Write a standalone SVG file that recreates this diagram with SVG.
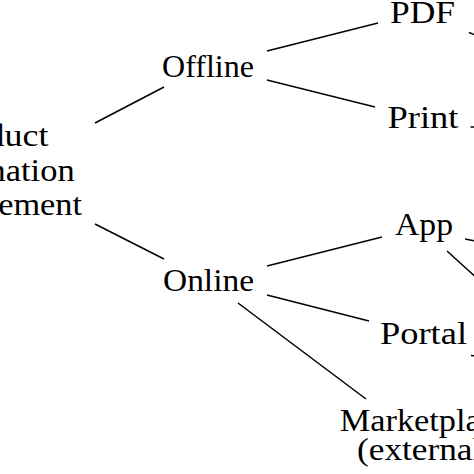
<svg xmlns="http://www.w3.org/2000/svg" width="474" height="474" viewBox="0 0 474 474">
<style>
text{font-family:"Liberation Serif","Times New Roman",serif;font-size:30.5px;fill:#000;text-anchor:middle}
.e line{stroke:#000;stroke-width:1.5;stroke-linecap:butt}
</style>
<rect width="474" height="474" fill="#fff"/>
<g class="e" id="connectors">
<line x1="95" y1="123" x2="164" y2="87"/>
<line x1="95" y1="224" x2="164" y2="259"/>
<line x1="267" y1="51" x2="378" y2="23"/>
<line x1="267" y1="80" x2="375" y2="107"/>
<line x1="267" y1="266" x2="382" y2="237"/>
<line x1="267" y1="295" x2="369" y2="321"/>
<line x1="238" y1="303" x2="366" y2="399"/>
<line x1="469" y1="32.5" x2="480" y2="37"/>
<line x1="470.5" y1="127" x2="480" y2="127"/>
<line x1="465" y1="239" x2="480" y2="242"/>
<line x1="447" y1="251" x2="480" y2="281"/>
<line x1="471" y1="355.5" x2="480" y2="356"/>
</g>
<g id="root">
<text x="-7.6" y="146" textLength="112" lengthAdjust="spacingAndGlyphs">Product</text>
<text x="-7.6" y="181" textLength="164.4" lengthAdjust="spacingAndGlyphs">Information</text>
<text x="-7.6" y="215" textLength="179.3" lengthAdjust="spacingAndGlyphs">Management</text>
</g>
<g id="offline"><text x="208" y="77" textLength="92" lengthAdjust="spacingAndGlyphs">Offline</text></g>
<g id="online"><text x="208.5" y="291" textLength="91" lengthAdjust="spacingAndGlyphs">Online</text></g>
<g id="pdf"><text x="422.5" y="23" textLength="65" lengthAdjust="spacingAndGlyphs">PDF</text></g>
<g id="print"><text x="423" y="128" textLength="71" lengthAdjust="spacingAndGlyphs">Print</text></g>
<g id="app"><text x="424" y="235" textLength="58" lengthAdjust="spacingAndGlyphs">App</text></g>
<g id="portal"><text x="423.5" y="344" textLength="87" lengthAdjust="spacingAndGlyphs">Portal</text></g>
<g id="marketplace">
<text x="425.5" y="431" textLength="171.5" lengthAdjust="spacingAndGlyphs">Marketplace</text>
<text x="425.5" y="460" textLength="137" lengthAdjust="spacingAndGlyphs">(external)</text>
</g>
</svg>
